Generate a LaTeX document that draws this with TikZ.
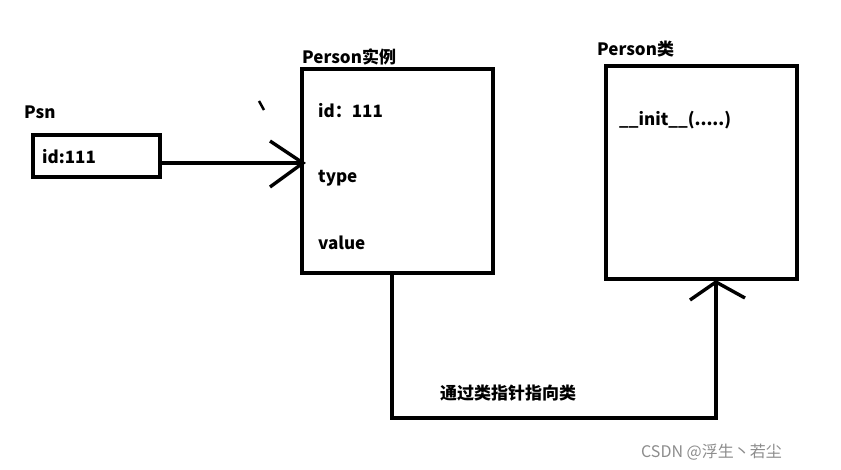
\documentclass[tikz,border=0pt]{standalone}
\usepackage{fontspec}
\setmainfont{Noto Sans CJK SC}
\begin{document}
\begin{tikzpicture}[x=1pt,y=-1pt,
  thick/.style={line width=3.4pt},
  lbl/.style={font=\bfseries\fontsize{17}{19}\selectfont, inner sep=0pt, anchor=west},
  box/.style={draw, line width=3.4pt}]
\useasboundingbox (0,0) rectangle (841,470);
\node[lbl] (psn) at (24,112) {Psn};
\draw[box] (33,135) rectangle (160,177);
\node[lbl] (idv) at (42,157) {id:111};
\coordinate (a1) at (160,163);
\coordinate (a2) at (303,163);
\draw[thick] (a1) -- (a2);
\draw[thick, line join=miter] (270,141) -- (a2) -- (270,187);
\draw[line width=2.5pt] (259,101) -- (264,110);
\node[lbl] (pi) at (302,57) {Person实例};
\draw[box] (302,69) rectangle (493,273);
\node[lbl] at (318,111) {id：111};
\node[lbl] at (318,178) {type};
\node[lbl] at (318,243) {value};
\node[lbl] (pc) at (597,49) {Person类};
\draw[box] (606,66) rectangle (797,279);
\node[lbl] at (619,120) {\_\_init\_\_(.....)};
\coordinate (s) at (392,273);
\coordinate (e) at (716,282);
\draw[thick] (s) -- (392,418) -- (716,418) -- (e);
\draw[thick] (690,300) -- (e) -- (745,298);
\node[lbl] at (440,393) {通过类指针指向类};
\node[font=\fontsize{16}{18}\selectfont, text=gray!90, anchor=west, inner sep=0pt] at (641,452) {CSDN @浮生丶若尘};
\end{tikzpicture}
\end{document}
